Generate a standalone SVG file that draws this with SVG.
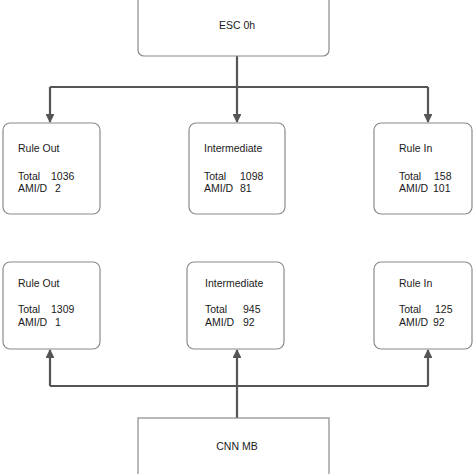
<svg xmlns="http://www.w3.org/2000/svg" width="474" height="474" viewBox="0 0 474 474">
<style>
.box{fill:#fff;stroke:#8a8a8a;stroke-width:1.2}
.t{font-family:"Liberation Sans",Arial,sans-serif;font-size:10.5px;fill:#1a1a1a}
.c{text-anchor:middle}
.ln{fill:none;stroke:#555;stroke-width:2.2}
</style>
<defs>
<marker id="ah" viewBox="0 0 10 10" refX="9" refY="5" markerWidth="4" markerHeight="4" orient="auto" markerUnits="strokeWidth">
<path d="M0,0 L10,5 L0,10 z" fill="#555"/>
</marker>
</defs>
<rect width="474" height="474" fill="#fff"/>
<g id="connectors">
<path class="ln" d="M237,56 V87"/>
<path class="ln" d="M50,87 H428"/>
<path class="ln" d="M50,87 V122" marker-end="url(#ah)"/>
<path class="ln" d="M237,87 V122" marker-end="url(#ah)"/>
<path class="ln" d="M428,87 V122" marker-end="url(#ah)"/>
<path class="ln" d="M237,418 V386"/>
<path class="ln" d="M50,386 H428"/>
<path class="ln" d="M50,386 V350" marker-end="url(#ah)"/>
<path class="ln" d="M237,386 V350" marker-end="url(#ah)"/>
<path class="ln" d="M428,386 V350" marker-end="url(#ah)"/>
</g>
<g id="esc">
<rect class="box" x="138" y="-6" width="191" height="62" rx="6"/>
<text class="t c" x="237" y="29">ESC 0h</text>
</g>
<g id="top-ruleout">
<rect class="box" x="3" y="123" width="97" height="91" rx="7"/>
<text class="t" x="18" y="152">Rule Out</text>
<text class="t" x="18" y="180">Total</text><text class="t" x="51" y="180">1036</text>
<text class="t" x="18" y="192">AMI/D</text><text class="t" x="55" y="192">2</text>
</g>
<g id="top-intermediate">
<rect class="box" x="189" y="123" width="96" height="91" rx="7"/>
<text class="t" x="204" y="152">Intermediate</text>
<text class="t" x="204" y="180">Total</text><text class="t" x="240" y="180">1098</text>
<text class="t" x="204" y="192">AMI/D</text><text class="t" x="240" y="192">81</text>
</g>
<g id="top-rulein">
<rect class="box" x="374" y="123" width="98" height="91" rx="7"/>
<text class="t" x="399" y="152">Rule In</text>
<text class="t" x="399" y="180">Total</text><text class="t" x="434" y="180">158</text>
<text class="t" x="399" y="192">AMI/D</text><text class="t" x="433" y="192">101</text>
</g>
<g id="bot-ruleout">
<rect class="box" x="3" y="262" width="97" height="87" rx="7"/>
<text class="t" x="18" y="287">Rule Out</text>
<text class="t" x="18" y="313">Total</text><text class="t" x="51" y="313">1309</text>
<text class="t" x="18" y="326">AMI/D</text><text class="t" x="55" y="326">1</text>
</g>
<g id="bot-intermediate">
<rect class="box" x="187" y="262" width="97" height="87" rx="7"/>
<text class="t" x="205" y="287">Intermediate</text>
<text class="t" x="205" y="313">Total</text><text class="t" x="243" y="313">945</text>
<text class="t" x="205" y="326">AMI/D</text><text class="t" x="243" y="326">92</text>
</g>
<g id="bot-rulein">
<rect class="box" x="374" y="262" width="98" height="87" rx="7"/>
<text class="t" x="399" y="287">Rule In</text>
<text class="t" x="399" y="313">Total</text><text class="t" x="435" y="313">125</text>
<text class="t" x="399" y="326">AMI/D</text><text class="t" x="433" y="326">92</text>
</g>
<g id="cnn">
<rect class="box" x="138" y="418" width="191" height="62"/>
<text class="t c" x="237" y="450">CNN MB</text>
</g>
</svg>
